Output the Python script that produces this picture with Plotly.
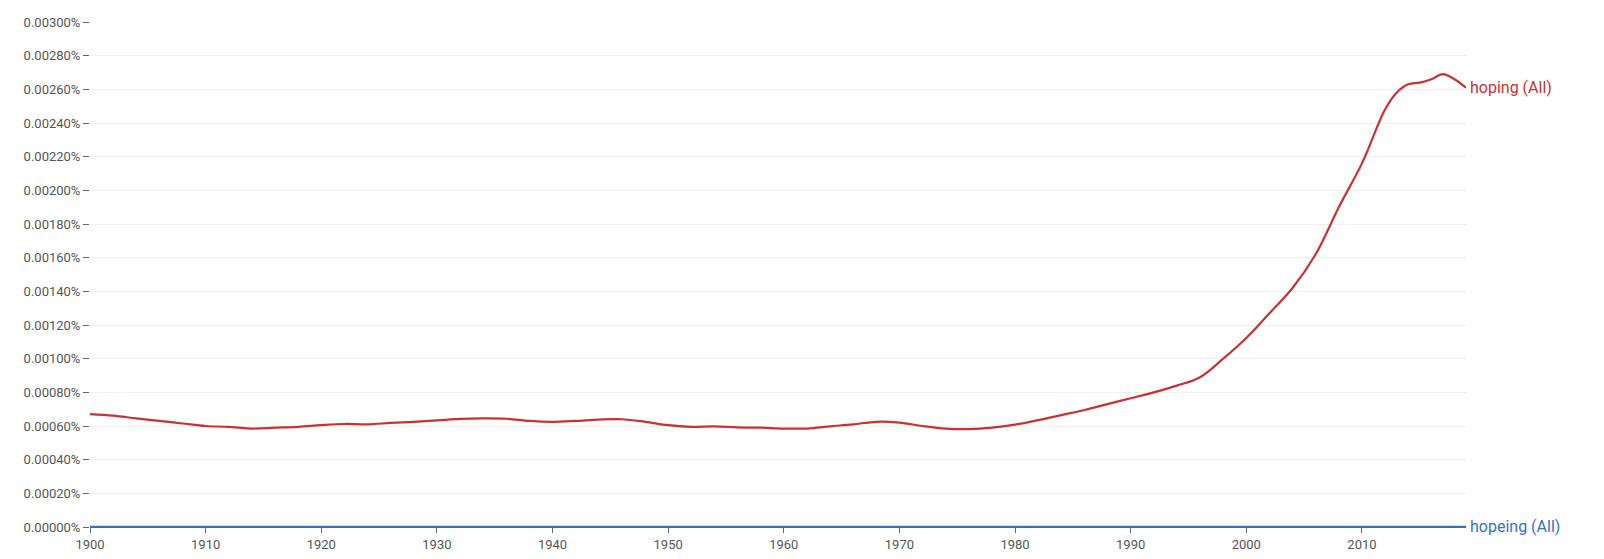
import plotly.graph_objects as go

years = [1900,1902,1904,1906,1908,1910,1912,1914,1916,1918,1920,1922,1924,1926,1928,1930,1932,1934,1936,1938,1940,1942,1944,1946,1948,1950,1952,1954,1956,1958,1960,1962,1964,1966,1968,1970,1972,1974,1976,1978,1980,1982,1984,1986,1988,1990,1992,1994,1996,1998,2000,2002,2004,2006,2008,2010,2012,2013,2014,2015,2016,2017,2018,2019]
hoping = [0.000671,0.000662,0.000645,0.000630,0.000615,0.000600,0.000595,0.000585,0.000590,0.000595,0.000605,0.000612,0.000610,0.000618,0.000625,0.000633,0.000642,0.000645,0.000643,0.000630,0.000625,0.000630,0.000638,0.000640,0.000625,0.000605,0.000595,0.000598,0.000592,0.000590,0.000585,0.000585,0.000598,0.000610,0.000625,0.000620,0.000600,0.000585,0.000582,0.000590,0.000608,0.000635,0.000665,0.000695,0.000730,0.000765,0.000800,0.000840,0.000890,0.001000,0.001123,0.001270,0.001420,0.001620,0.001900,0.002160,0.002480,0.002580,0.002630,0.002640,0.002660,0.002690,0.002660,0.002610]
hopeing = [0.0000015]*len(years)

fig = go.Figure()
fig.add_trace(go.Scatter(x=years, y=hoping, mode="lines", line=dict(color="#c83232", width=2.2, shape="spline"), hoverinfo="skip"))
fig.add_trace(go.Scatter(x=years, y=hopeing, mode="lines", line=dict(color="#3a70c8", width=2.2), hoverinfo="skip"))
fig.add_annotation(x=2019, y=hoping[-1], text="hoping (All)", xanchor="left", showarrow=False, xshift=2, font=dict(color="#c83232", size=16))
fig.add_annotation(x=2019, y=hopeing[-1], text="hopeing (All)", xanchor="left", showarrow=False, xshift=2, font=dict(color="#3a70c8", size=16))
fig.update_layout(
    width=1604, height=559, margin=dict(l=82, r=146, t=14, b=40, autoexpand=False),
    plot_bgcolor="white", paper_bgcolor="white", showlegend=False,
    font=dict(family="Roboto", size=13, color="#555"),
)
fig.update_xaxes(range=[1900, 2019], tickvals=list(range(1900, 2011, 10)), showgrid=False, automargin=False,
                 ticks="outside", ticklen=5, tickcolor="#666", showline=True, linecolor="#666", zeroline=False)
fig.update_yaxes(range=[0, 0.003], tickvals=[i*0.0002 for i in range(16)], automargin=False,
                 ticktext=[f"{i*0.0002:.5f}%" for i in range(16)],
                 showgrid=True, gridcolor="#f0f0f0", ticks="outside", ticklen=6, tickcolor="#666", zeroline=False)
fig.write_html("out.html")
